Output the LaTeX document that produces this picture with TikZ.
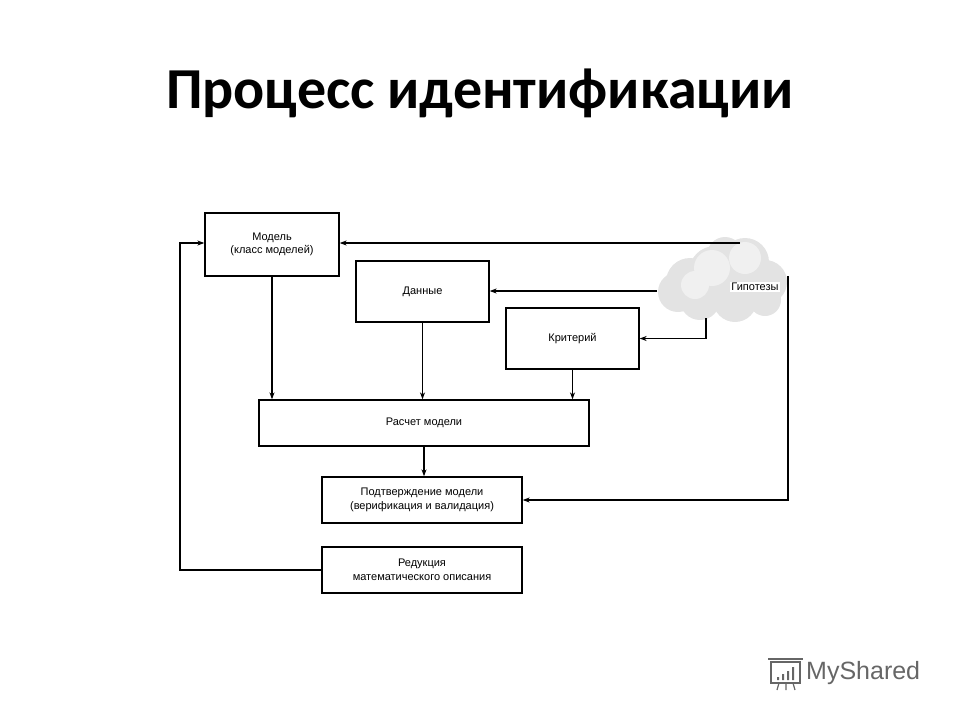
\documentclass[tikz,border=0pt]{standalone}
\usepackage{fontspec}
\setmainfont{Liberation Sans}
\newfontfamily\titlefont{Carlito}
\usetikzlibrary{arrows.meta}
\begin{document}
\begin{tikzpicture}[x=1pt,y=-1pt,
  box/.style={draw,line width=1.3pt,minimum height=#1,inner sep=0pt,align=center,font=\fontsize{11}{13.5}\selectfont},
  box/.default=62,
  arr/.style={line width=1.3pt,-{Stealth[length=7pt,width=5pt]}},
  ln/.style={line width=1.3pt}]
\useasboundingbox (0,0) rectangle (960,720);
\node[font=\titlefont\bfseries\fontsize{58}{64}\selectfont] (title) at (480,93) {Процесс идентификации};
\node[box=63,minimum width=134] (model) at (272,244.5) {Модель\\(класс моделей)};
\node[box=61,minimum width=133] (data) at (422.5,291.5) {Данные};
\node[box=61,minimum width=133] (crit) at (572.5,338.5) {Критерий};
\node[box=46,minimum width=330] (calc) at (424,423) {Расчет модели};
\node[box=46,minimum width=200] (conf) at (422,500) {Подтверждение модели\\(верификация и валидация)};
\node[box=46,minimum width=200] (red) at (422,570) {Редукция\\математического описания};
% cloud
\foreach \cx/\cy/\r in {690/282/24,715/272/26,745/262/24,765/282/22,700/300/20,735/300/22,765/300/16,678/292/20,725/255/18}
  \fill[gray!22] (\cx,\cy) circle (\r);
\foreach \cx/\cy/\r in {712/268/18,745/258/16,695/285/14}
  \fill[gray!12] (\cx,\cy) circle (\r);
\coordinate (c1) at (740,243);
\coordinate (c2) at (657,291);
\coordinate (c3) at (706,318);
\coordinate (c4) at (788,276);
\node[font=\fontsize{11}{13}\selectfont,fill=white,inner sep=1pt] (hyp) at (755,287) {Гипотезы};
\draw[arr] (c1) -- (model.east |- c1);
\draw[arr] (c2) -- (data.east |- c2);
\draw[arr] (c3) |- (crit.east);
\draw[arr] (c4) |- (conf.east);
\draw[arr] (model.south) -- (calc.north -| model.south);
\draw[arr] (data.south) -- (calc.north -| data.south);
\draw[arr] (crit.south) -- (calc.north -| crit.south);
\draw[arr] (calc.south) -- (conf.north -| calc.south);
\coordinate (lx) at (180,570);
\draw[arr] (red.west) -- (lx) |- (model.west |- c1);
% watermark
\node[text=gray!80!black,font=\fontsize{25}{28}\selectfont,anchor=west,inner sep=0pt] (ms) at (806,673) {MyShared};
\draw[gray!80!black,line width=1.4pt] (771,662) rectangle (800,683);
\draw[gray!80!black,line width=1.4pt] (768,659) -- (803,659);
\fill[gray!80!black] (777,677) rectangle (779,680) (782,674) rectangle (784,680) (787,671) rectangle (789,680) (792,667) rectangle (794,680);
\draw[gray!80!black,line width=1.2pt] (779,683) -- (777,690) (786,683) -- (786,690) (793,683) -- (795,690);
\end{tikzpicture}
\end{document}
